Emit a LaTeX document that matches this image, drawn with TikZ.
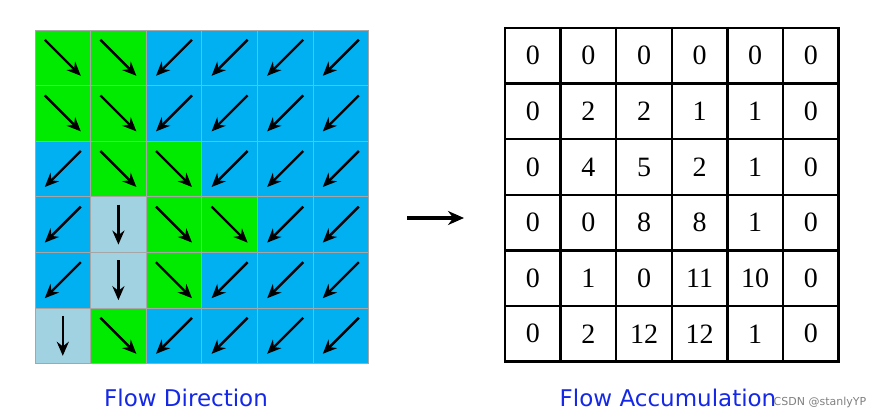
\documentclass[tikz,border=0pt]{standalone}
\usepackage{fontspec}
\setmainfont{Liberation Serif}
\newfontfamily\lblfont{DejaVu Sans}
\usetikzlibrary{arrows.meta}
\definecolor{cg}{RGB}{0,235,0}
\definecolor{cb}{RGB}{0,176,240}
\definecolor{cl}{RGB}{160,210,225}
\definecolor{lbl}{RGB}{20,40,230}
\tikzset{dirarrow/.style={-{Stealth[length=14pt,width=12pt]},line width=2.4pt,black},
 cellbox/.style={draw=gray!70,line width=0.8pt},
 numtxt/.style={font=\fontsize{28}{30}\selectfont}}
\begin{document}
\begin{tikzpicture}[x=1pt,y=-1pt]
\useasboundingbox (0,0) rectangle (870,420);
\def\cs{55.6}
\foreach \row/\cols/\dirs [count=\r from 0] in {
 0/{cg,cg,cb,cb,cb,cb}/{1,1,2,2,2,2},
 1/{cg,cg,cb,cb,cb,cb}/{1,1,2,2,2,2},
 2/{cb,cg,cg,cb,cb,cb}/{2,1,1,2,2,2},
 3/{cb,cl,cg,cg,cb,cb}/{2,3,1,1,2,2},
 4/{cb,cl,cg,cb,cb,cb}/{2,3,1,2,2,2},
 5/{cl,cg,cb,cb,cb,cb}/{3,1,2,2,2,2}}{
 \foreach \c [count=\i from 0] in \cols {
  \fill[\c,cellbox] ({35+\i*\cs},{30+\r*\cs}) rectangle +(\cs,\cs);
 }
 \foreach \d [count=\i from 0] in \dirs {
  \coordinate (m) at ({35+(\i+0.5)*\cs},{30+(\r+0.5)*\cs});
  \ifcase\d\or
   \draw[dirarrow] ([shift={(-18,-18)}]m) -- ([shift={(18,18)}]m);
  \or
   \draw[dirarrow] ([shift={(18,-18)}]m) -- ([shift={(-18,18)}]m);
  \or
   \draw[dirarrow] ([shift={(0,-20)}]m) -- ([shift={(0,20)}]m);
  \fi
 }
}
\foreach \vals [count=\r from 0] in {{0,0,0,0,0,0},{0,2,2,1,1,0},{0,4,5,2,1,0},{0,0,8,8,1,0},{0,1,0,11,10,0},{0,2,12,12,1,0}}{
 \foreach \v [count=\i from 0] in \vals {
  \node[numtxt] (n\r\i) at ({505+(\i+0.5)*\cs},{28+(\r+0.5)*\cs}) {\v};
 }
}
\foreach \k in {0,...,6}{
 \draw[line width=2.5pt] ({505+\k*\cs},27) -- ({505+\k*\cs},{29+6*\cs});
 \draw[line width=2.5pt] (504,{28+\k*\cs}) -- ({506+6*\cs},{28+\k*\cs});
}
\coordinate (a1) at (407,218);
\coordinate (a2) at (464,218);
\draw[-{Stealth[length=16pt,width=14pt]},line width=4pt] (a1) -- (a2);
\node[lbl,font=\lblfont\fontsize{23}{25}\selectfont] (fd) at (186,398) {Flow Direction};
\node[lbl,font=\lblfont\fontsize{23}{25}\selectfont] (fa) at (668,398) {Flow Accumulation};
\node[gray,font=\lblfont\fontsize{11}{13}\selectfont] (wm) at (820,402) {CSDN @stanlyYP};
\end{tikzpicture}
\end{document}
